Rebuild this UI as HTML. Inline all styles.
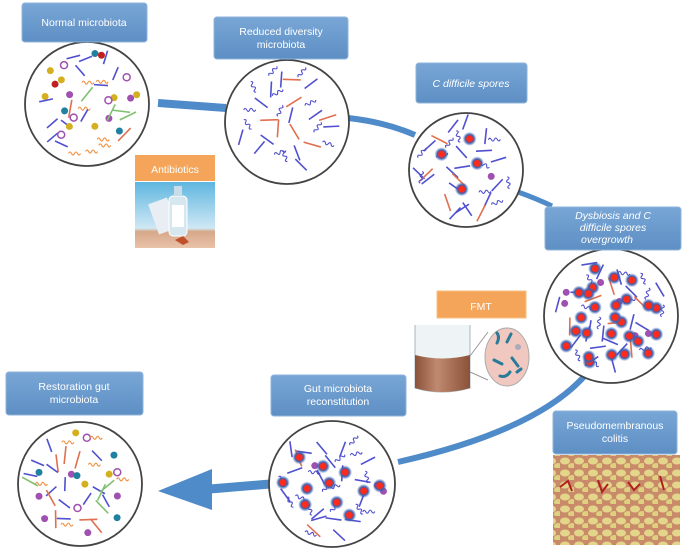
<!DOCTYPE html>
<html><head><meta charset="utf-8">
<style>
body{margin:0;background:#fff;}
svg{display:block;}
text{font-family:"Liberation Sans",sans-serif;fill:#fff;font-size:10.5px;text-anchor:middle;}
</style></head>
<body>
<svg id="s" width="685" height="551" viewBox="0 0 685 551" xmlns="http://www.w3.org/2000/svg">
<defs>
<linearGradient id="bl" x1="0" y1="0" x2="0" y2="1"><stop offset="0" stop-color="#78a6d6"/><stop offset="1" stop-color="#5e8fc4"/></linearGradient>
<linearGradient id="ab" x1="0" y1="0" x2="0" y2="1"><stop offset="0" stop-color="#5fb6e0"/><stop offset="0.7" stop-color="#cfe8f4"/><stop offset="0.75" stop-color="#d7a88a"/><stop offset="1" stop-color="#e8c2a8"/></linearGradient>
<linearGradient id="liq" x1="0" y1="0" x2="1" y2="0"><stop offset="0" stop-color="#8a5238"/><stop offset="0.4" stop-color="#c08a70"/><stop offset="1" stop-color="#8a5238"/></linearGradient>
<pattern id="pm" width="14" height="12" patternUnits="userSpaceOnUse"><rect width="14" height="12" fill="#c98a6a"/><ellipse cx="5" cy="5" rx="5" ry="3.5" fill="#e3d58a"/><ellipse cx="12" cy="10" rx="4" ry="3" fill="#ddd07e"/></pattern>
<radialGradient id="sp"><stop offset="0.4" stop-color="#ff2a1a"/><stop offset="0.6" stop-color="#3a5fb0"/><stop offset="1" stop-color="#3a5fb0" stop-opacity="0"/></radialGradient>
</defs>

<g fill="none" stroke="#4f8ac9" stroke-linecap="butt">
<path d="M158,103 L226,108" stroke-width="8"/>
<path d="M348,118 Q385,122 415,135" stroke-width="6"/>
<path d="M518,192 Q535,198 552,206" stroke-width="5"/>
<path d="M588,372 Q540,430 398,462" stroke-width="6"/>
<path d="M270,484 L210,489" stroke-width="9"/>
</g>
<polygon points="158,491 212,469 212,510" fill="#4f8ac9"/>

<g id="circles"></g>

<g fill="url(#bl)" stroke="#8fb3da" stroke-width="1">
<rect x="22" y="3" width="125" height="39" rx="3"/>
<rect x="214" y="17" width="134" height="42" rx="3"/>
<rect x="416" y="63" width="111" height="40" rx="3"/>
<rect x="545" y="207" width="136" height="43" rx="3"/>
<rect x="271" y="375" width="135" height="41" rx="3"/>
<rect x="6" y="372" width="137" height="43" rx="3"/>
<rect x="553" y="411" width="124" height="43" rx="3"/>
</g>
<text x="84" y="26">Normal microbiota</text>
<text x="281" y="35">Reduced diversity</text><text x="281" y="48">microbiota</text>
<text x="471" y="87" font-style="italic">C difficile spores</text>
<text x="613" y="219" font-size="10" font-style="italic">Dysbiosis and C</text><text x="613" y="231" font-size="10" font-style="italic">difficile  spores</text><text x="607" y="243" font-size="10" font-style="italic">overgrowth</text>
<text x="338" y="392">Gut microbiota</text><text x="338" y="405">reconstitution</text>
<text x="74" y="390">Restoration gut</text><text x="74" y="403">microbiota</text>
<text x="615" y="429">Pseudomembranous</text><text x="615" y="442">colitis</text>

<rect x="135" y="155" width="80" height="26" fill="#f5a55a"/>
<text x="175" y="173" font-size="13">Antibiotics</text>
<rect x="135" y="182" width="80" height="66" fill="url(#ab)"/>
<rect x="153" y="200" width="20" height="32" fill="#e8eef3" transform="rotate(-20 163 216)"/>
<rect x="169" y="196" width="18" height="40" rx="4" fill="#d6e7f0" stroke="#fff"/>
<rect x="174" y="186" width="8" height="10" fill="#c8dde8"/>
<rect x="172" y="205" width="12" height="22" fill="#fff"/>
<path d="M175,240 l8,-4 l6,6 l-6,3z" fill="#c0502a"/>

<rect x="437" y="291" width="89" height="27" fill="#f5a55a" stroke="#f7c080"/>
<text x="481" y="310" font-size="13">FMT</text>
<path d="M415,325 L415,388 Q442,396 470,388 L470,325" fill="#eef4f6" stroke="#a8b6bc"/>
<path d="M415,355 Q442,362 470,355 L470,388 Q442,396 415,388Z" fill="url(#liq)"/>
<line x1="470" y1="356" x2="488" y2="332" stroke="#999"/>
<line x1="470" y1="372" x2="488" y2="380" stroke="#999"/>
<ellipse cx="507" cy="357" rx="22" ry="29" fill="#f0c8c0" stroke="#aaa"/>
<g stroke="#2a7a9a" stroke-width="3" fill="none" stroke-linecap="round">
<path d="M497,343 q3,-6 0,-10"/><path d="M507,342 l4,-8"/><path d="M494,360 l8,4"/><path d="M512,358 l6,8"/><path d="M500,376 q6,2 10,-4"/><path d="M517,372 l4,-3"/>
</g>
<circle cx="518" cy="347" r="3" fill="#aab" />

<rect x="553" y="455" width="127" height="90" fill="url(#pm)"/>
<g stroke="#b02020" stroke-width="2" fill="none"><path d="M560,487 l8,-6 l4,10"/><path d="M598,480 l4,12 l6,-8"/><path d="M628,482 l6,8 l6,-6"/><path d="M660,476 l4,14"/></g>
</svg>
<script>
var st=12345;function r(){st|=0;st=st+0x6D2B79F5|0;var t=Math.imul(st^st>>>15,1|st);t=t+Math.imul(t^t>>>7,61|t)^t;return((t^t>>>14)>>>0)/4294967296;}
var g=document.getElementById('circles');var ns='http://www.w3.org/2000/svg';
function el(t,a){var e=document.createElementNS(ns,t);for(var k in a)e.setAttribute(k,a[k]);g.appendChild(e);return e;}
function pts(cx,cy,R,step){var p=[];for(var y=cy-R;y<cy+R;y+=step)for(var x=cx-R;x<cx+R;x+=step){var px=x+r()*step,py=y+r()*step;var dx=px-cx,dy=py-cy;if(dx*dx+dy*dy<(R-9)*(R-9))p.push([px,py]);}return p;}
function circ(cx,cy,R,type,spores){
 el('circle',{cx:cx,cy:cy,r:R,fill:'#fff',stroke:'#444','stroke-width':1.8});
 var p=pts(cx,cy,R,type=='full'?14:16);
 p.forEach(function(q){var x=q[0],y=q[1],k=r(),ang=Math.floor(r()*180);var tr='rotate('+ang+' '+x+' '+y+')';
  if(type=='full'){
   if(k<0.3){var cols=['#d4b020','#a050b0','#c02020','#2080a0'];el('circle',{cx:x,cy:y,r:3.5,fill:cols[Math.floor(r()*4)]});}
   else if(k<0.42){el('circle',{cx:x,cy:y,r:3.5,fill:'none',stroke:'#a050b0','stroke-width':1.5});}
   else if(k<0.64){el('line',{x1:x-9,y1:y,x2:x+9,y2:y,stroke:r()<0.5?'#e07050':'#80c070','stroke-width':1.6,transform:tr});}
   else if(k<0.82){el('line',{x1:x-7,y1:y,x2:x+7,y2:y,stroke:'#5050d0','stroke-width':1.6,transform:tr});}
   else el('path',{d:'M'+(x-7)+','+y+' q1.5,-3 3,0 t3,0 t3,0 t3,0',stroke:'#f09040',fill:'none','stroke-width':1.1});
  } else {
   if(k<0.35){el('path',{d:'M'+(x-7)+','+y+' q1.5,-3 3,0 t3,0 t3,0 t3,0',stroke:'#5050d0',fill:'none','stroke-width':1.1,transform:tr});}
   else if(k<0.75)el('line',{x1:x-8,y1:y,x2:x+8,y2:y,stroke:'#5050d0','stroke-width':1.6,transform:tr});
   else if(k<0.93)el('line',{x1:x-9,y1:y,x2:x+9,y2:y,stroke:'#e07050','stroke-width':1.6,transform:tr});
   else el('circle',{cx:x,cy:y,r:3.5,fill:'#a050b0'});
  }
 });
 var sp=pts(cx,cy,R-4,spores>20?18:24);for(var i=sp.length-1;i>0;i--){var j=Math.floor(r()*(i+1));var t=sp[i];sp[i]=sp[j];sp[j]=t;}
 for(var j=0;j<Math.min(spores,sp.length);j++)el('circle',{cx:sp[j][0],cy:sp[j][1],r:7,fill:'url(#sp)'});
}
circ(87,104,62,'full',0);
circ(287,122,62,'red',0);
circ(466,170,57,'red',4);
circ(611,316,67,'red',26);
circ(332,484,63,'red',14);
circ(80,484,62,'full',0);
</script>
</body></html>
